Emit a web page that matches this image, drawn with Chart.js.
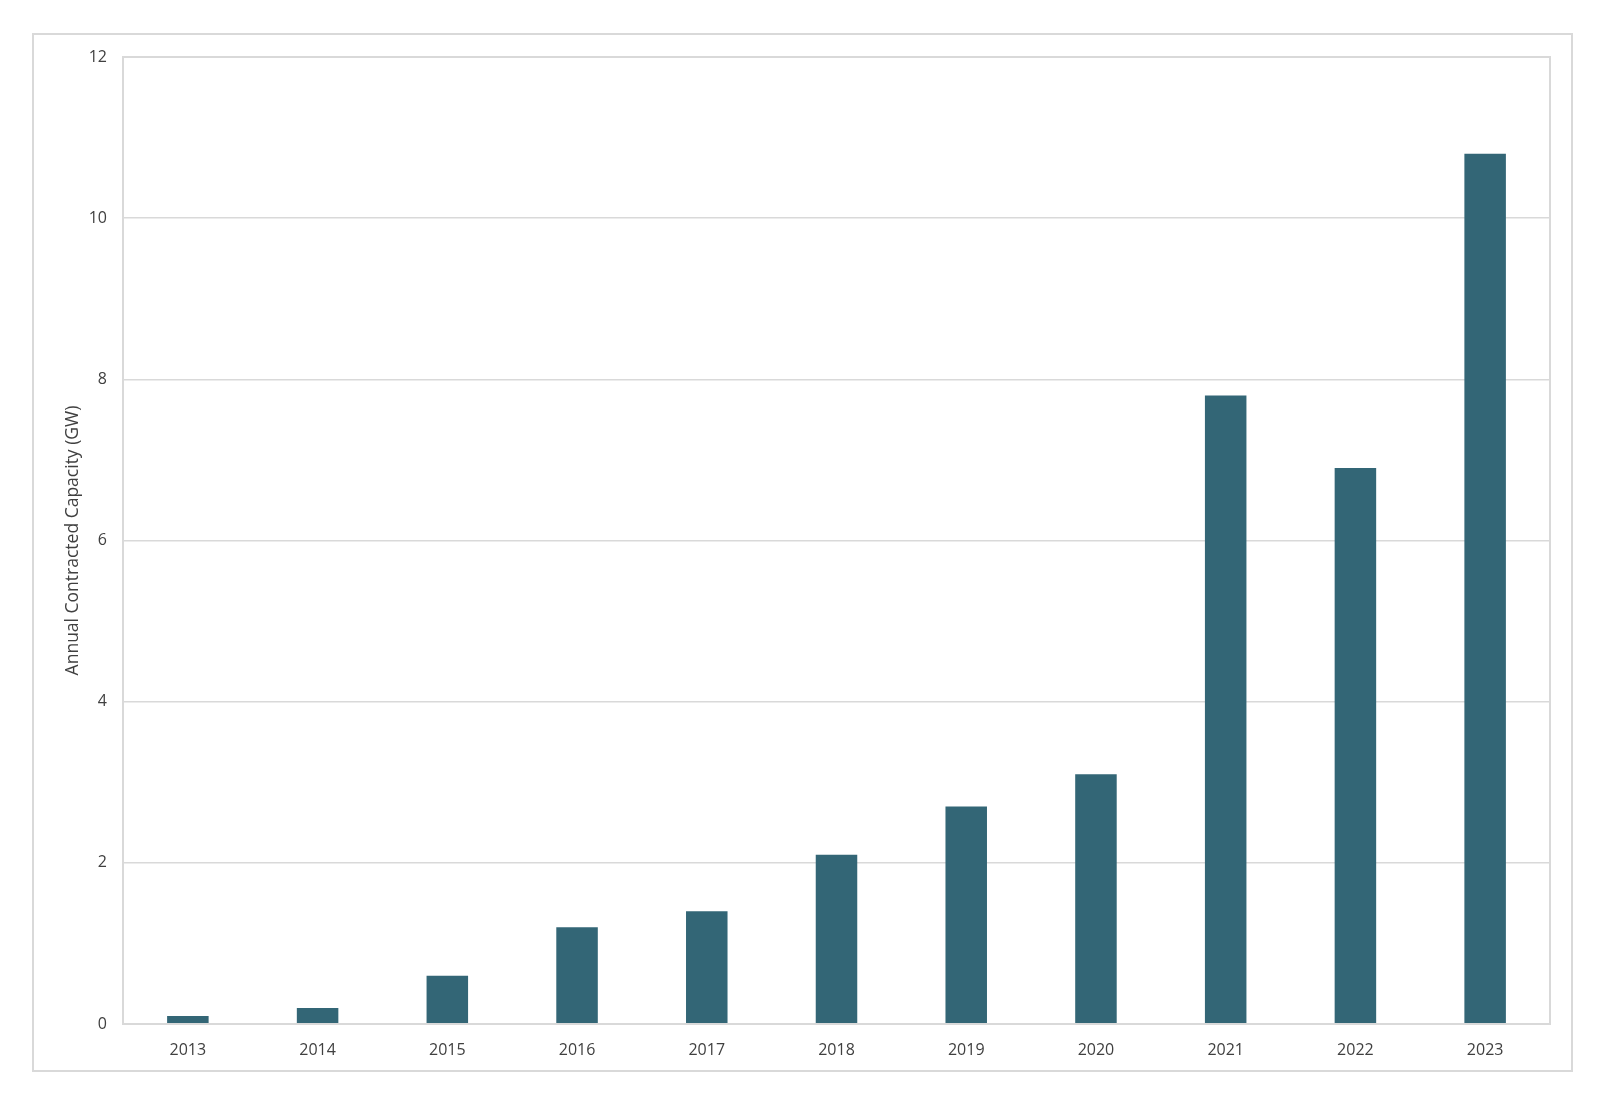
<!DOCTYPE html>
<html lang="en">
<head>
  <meta charset="UTF-8" />
  <title>Annual Contracted Capacity</title>
  <script src="https://cdn.jsdelivr.net/npm/chart.js"></script>
  <style>
    html, body {
      margin: 0;
      padding: 0;
      background: #ffffff;
    }
    #wrap {
      width: 1606px;
      height: 1106px;
      position: relative;
    }
  </style>
</head>
<body>
<div id="wrap"><canvas id="grafico"></canvas></div>
<script>
  // Data
  const years = ['2013', '2014', '2015', '2016', '2017', '2018', '2019', '2020', '2021', '2022', '2023'];
  const capacityGW = [0.1, 0.2, 0.6, 1.2, 1.4, 2.1, 2.7, 3.1, 7.8, 6.9, 10.8];
  const yTicks = [0, 2, 4, 6, 8, 10, 12];

  const gris = '#d9d9d9';
  const texto = '#404040';

  // outer frame + box around plot area
  const marcos = {
    id: 'marcos',
    beforeDraw(chart) {
      const c = chart.ctx;
      c.save();
      c.fillStyle = '#ffffff';
      c.fillRect(0, 0, chart.width, chart.height);
      c.strokeStyle = gris;
      c.lineWidth = 2;
      c.strokeRect(33, 34, 1539, 1037);
      c.restore();
    },
    afterDatasetsDraw(chart) {
      const a = chart.chartArea;
      const c = chart.ctx;
      c.save();
      c.strokeStyle = gris;
      c.lineWidth = 2;
      c.strokeRect(a.left, a.top, a.right - a.left, a.bottom - a.top);
      c.restore();
    }
  };

  new Chart(document.getElementById('grafico'), {
    type: 'bar',
    data: {
      labels: years,
      datasets: [{
        label: 'Annual Contracted Capacity (GW)',
        data: capacityGW,
        backgroundColor: '#336676',
        borderWidth: 0,
        categoryPercentage: 0.8,
        barPercentage: 0.4
      }]
    },
    options: {
      responsive: true,
      maintainAspectRatio: false,
      animation: false,
      layout: {
        padding: { left: 52, top: 57, right: 56, bottom: 42 }
      },
      scales: {
        x: {
          grid: { display: false },
          border: { display: false },
          ticks: {
            color: texto,
            font: { family: 'Open Sans', size: 16 },
            padding: 9,
            maxRotation: 0
          },
          afterFit(scale) { scale.height = 40; }
        },
        y: {
          min: 0,
          max: 12,
          afterBuildTicks(scale) {
            scale.ticks = yTicks.map(v => ({ value: v }));
          },
          grid: { color: gris, lineWidth: 1.5, drawTicks: false },
          border: { display: false },
          ticks: {
            color: texto,
            font: { family: 'Open Sans', size: 16 },
            padding: 16
          },
          title: {
            display: true,
            text: 'Annual Contracted Capacity (GW)',
            color: texto,
            font: { family: 'Open Sans', size: 17.5 },
            padding: { top: 11, bottom: 0 }
          },
          afterFit(scale) { scale.width = 71; }
        }
      },
      plugins: {
        legend: { display: false },
        tooltip: { enabled: false }
      }
    },
    plugins: [marcos]
  });
</script>
</body>
</html>
